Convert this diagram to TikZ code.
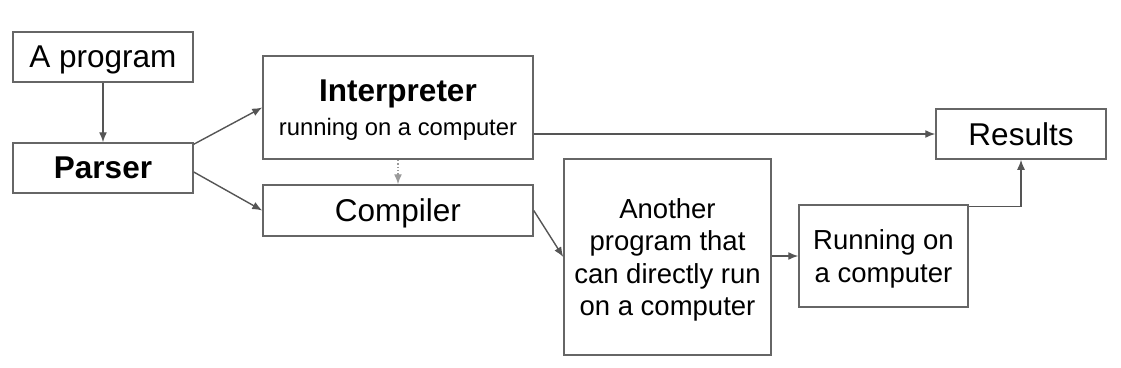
\documentclass[tikz,border=0pt]{standalone}
\usepackage{fontspec}
\setmainfont{Liberation Sans}
\usetikzlibrary{arrows.meta}
\definecolor{boxline}{HTML}{666666}
\definecolor{flowline}{HTML}{555555}
\definecolor{hintline}{HTML}{9A9A9A}

\begin{document}
\begin{tikzpicture}[x=1pt, y=-1pt, >={Latex[length=10pt,width=8pt]},
                    every node/.style={font=\fontsize{31.5}{33}\selectfont},
                    stage/.style={draw=boxline, line width=1.5pt, align=center, inner sep=0pt, text depth=0pt},
                    flow/.style={flowline, line width=1.4pt, ->}]

  \useasboundingbox (0,0) rectangle (1121,367);

  %% boxes
  \node[stage, minimum width=180pt, minimum height=50pt] (prog) at (103,57) {A program};
  \node[stage, minimum width=180pt, minimum height=50pt] (parser) at (103,168) {\textbf{Parser}};
  \node[stage, minimum width=270pt, minimum height=103pt] (interp) at (398,107.5)
    {\textbf{Interpreter}\\[1pt]{\fontsize{23.8}{26}\selectfont running on a computer}};
  \node[stage, minimum width=270pt, minimum height=51pt] (comp) at (398,210.5) {Compiler};
  \node[stage, minimum width=207pt, minimum height=196pt, font=\fontsize{27.5}{32.5}\selectfont] (another) at (667.5,257)
    {Another\\program that\\can directly run\\on a computer};
  \node[stage, minimum width=169pt, minimum height=102pt, font=\fontsize{27.5}{32.5}\selectfont] (running) at (883.5,256)
    {Running on\\a computer};
  \node[stage, minimum width=170pt, minimum height=50pt] (results) at (1021,134) {Results};

  %% connectors
  \draw[flow] (prog) -- (parser);
  \draw[flow] ([yshift=-2pt]parser.north east) -- (interp.west);
  \draw[flow] ([yshift=-4pt]parser.east) -- (comp.west);
  \draw[flow, hintline, dotted] (interp) -- (comp);
  \draw[flow] (interp.east |- results.west) -- (results.west);
  \draw[flow] (comp.east) -- (another.west);
  \draw[flow] (another.east |- running.west) -- (running.west);
  \draw[flow] ([yshift=-2pt]running.north east) -| (results.south);

\end{tikzpicture}
\end{document}
